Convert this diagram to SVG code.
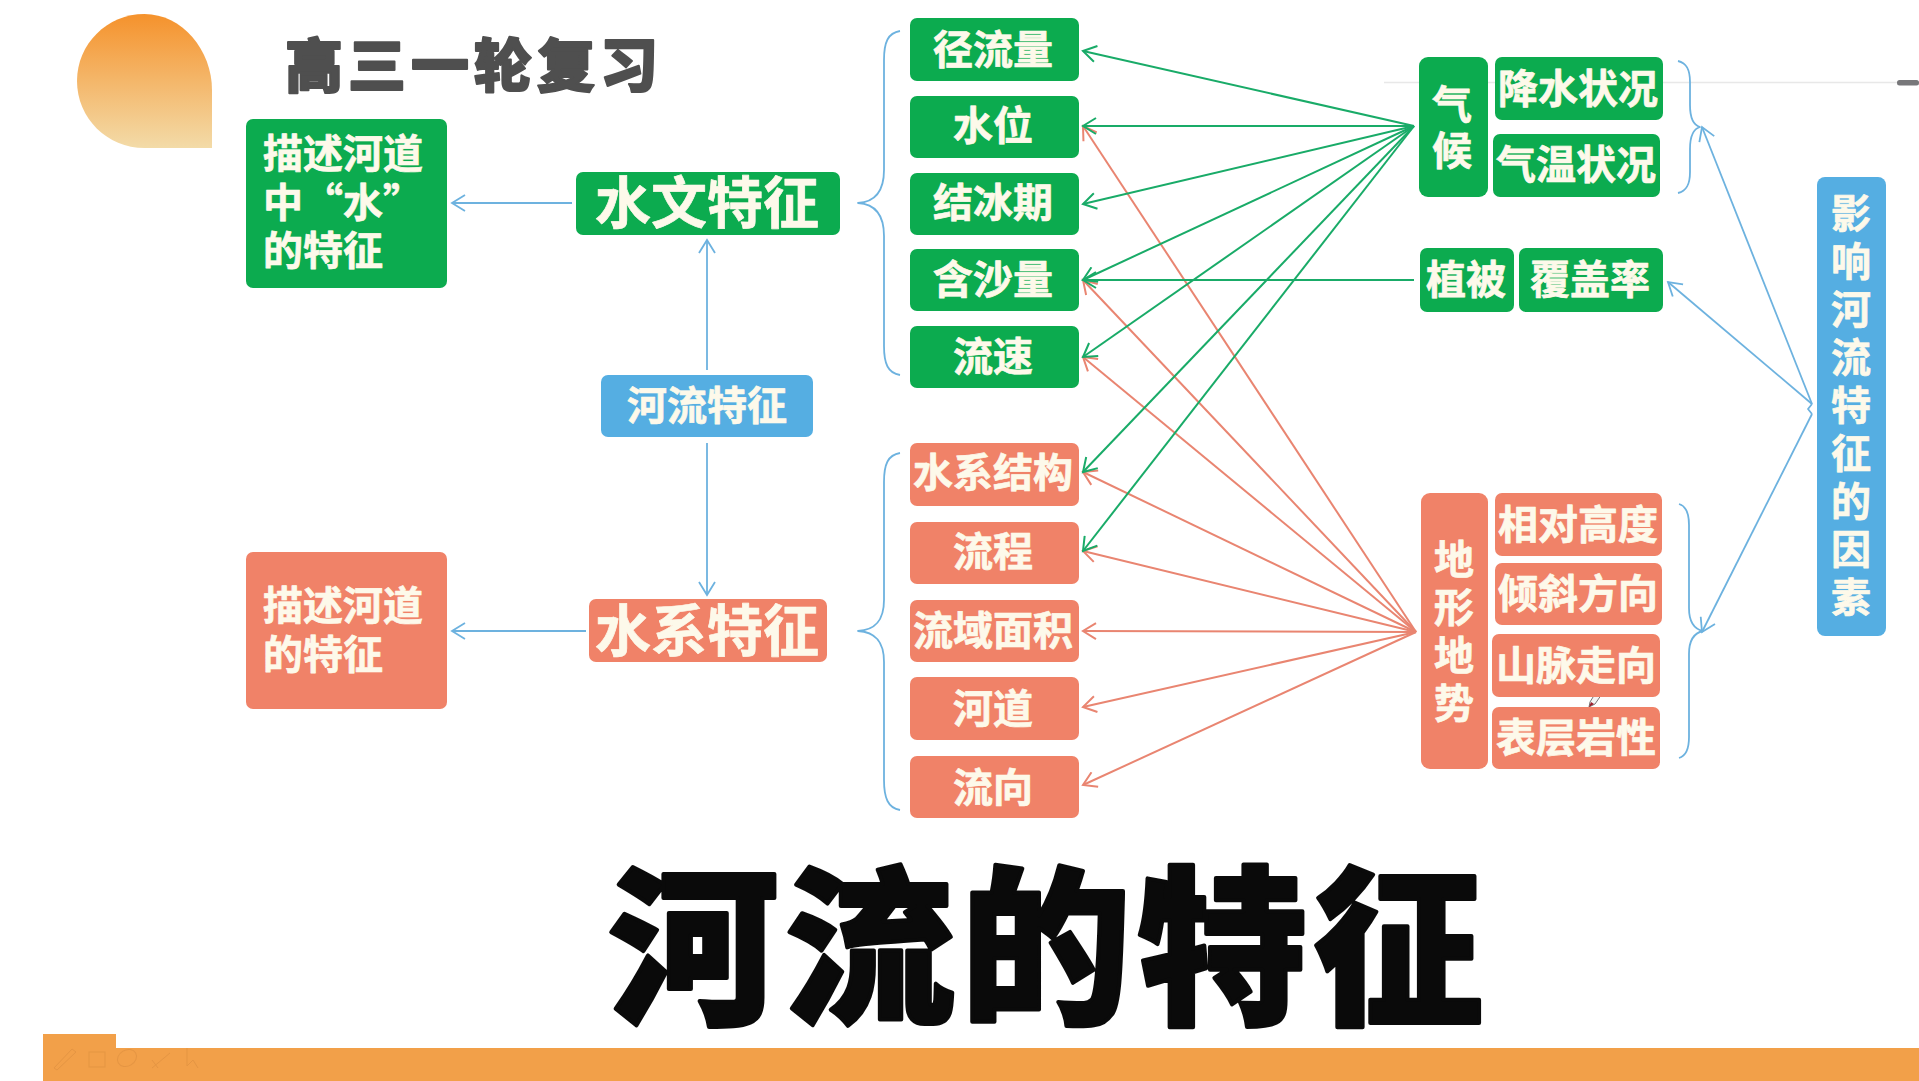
<svg xmlns="http://www.w3.org/2000/svg" width="1919" height="1081" viewBox="0 0 1919 1081">
<style>
text{font-family:"Noto Sans CJK SC","Noto Sans",sans-serif;font-weight:700;text-anchor:middle;fill:#fdf9ea;stroke:#fdf9ea;stroke-width:.7px;stroke-linejoin:round;font-size:40px}
.g{fill:#0cab4f}.r{fill:#f08268}.b{fill:#55aee2}
.big{font-size:56px}
.lg,.lr,.lb{fill:none;stroke-linejoin:round}
.lg{stroke:#19ab68;stroke-width:2}.lr{stroke:#e98571;stroke-width:2}.lb{stroke:#6db2df;stroke-width:1.8}
.title{text-anchor:start;font-weight:900}
</style>
<defs>
<linearGradient id="drop" x1="0" y1="0" x2="0" y2="1"><stop offset="0" stop-color="#f5922c"/><stop offset="1" stop-color="#f3dba8"/></linearGradient>
<marker id="mg" markerUnits="userSpaceOnUse" markerWidth="18" markerHeight="18" viewBox="-15 -9 18 18" refX="0" refY="0" orient="auto"><path d="M-13,-8 L0,0 L-13,8" fill="none" stroke="#19ab68" stroke-width="2"/></marker>
<marker id="mr" markerUnits="userSpaceOnUse" markerWidth="18" markerHeight="18" viewBox="-15 -9 18 18" refX="0" refY="0" orient="auto"><path d="M-13,-8 L0,0 L-13,8" fill="none" stroke="#e98571" stroke-width="2"/></marker>
<marker id="mb" markerUnits="userSpaceOnUse" markerWidth="18" markerHeight="18" viewBox="-15 -9 18 18" refX="0" refY="0" orient="auto"><path d="M-13,-8 L0,0 L-13,8" fill="none" stroke="#6db2df" stroke-width="1.8"/></marker>
</defs>
<rect width="1919" height="1081" fill="#fff"/>
<g id="decor">
<path d="M1384,82.500H1900" stroke="#e8e8e8" stroke-width="1.500"/>
<rect x="1897" y="80" width="22" height="5.500" rx="2.500" fill="#77777a"/>
<path d="M212,148H144.500C107,148 77,118 77,81C77,44 107,14 144.500,14C182,14 212,50 212,90Z" fill="url(#drop)"/>
<text class="title" x="285" y="87" style="font-size:58px;fill:#4f4f4f;stroke:#4f4f4f;stroke-width:2px;letter-spacing:5px">高三一轮复习</text>
<path d="M43,1081V1034H116V1048H1919V1081Z" fill="#f2a049"/>
<g fill="none" stroke="#dd8f40" stroke-width="1" opacity=".6">
<path d="M54,1068L72,1049L76,1052L57,1070Z"/>
<rect x="89" y="1052" width="16" height="15"/>
<ellipse cx="127" cy="1058" rx="10" ry="8" transform="rotate(-30 127 1058)"/>
<path d="M152,1068L170,1053M152,1060L158,1068"/>
<path d="M187,1048V1066L193,1060L198,1068"/>
</g>
<path d="M1604,691L1598,689L1590,702L1589,707L1595,704Z" fill="#f4f4f4" stroke="#777" stroke-width="1"/>
<path d="M1591,702L1589,707L1594,704Z" fill="#9b1c2a"/>
</g>
<g id="connectors">
<path class="lg" marker-end="url(#mg)" d="M1414,126L1083,51"/>
<path class="lr" marker-end="url(#mr)" d="M1416,632L1083,126"/>
<path class="lr" marker-end="url(#mr)" d="M1416,632L1083,280"/>
<path class="lr" marker-end="url(#mr)" d="M1416,632L1083,357"/>
<path class="lr" marker-end="url(#mr)" d="M1416,632L1083,472"/>
<path class="lr" marker-end="url(#mr)" d="M1416,632L1083,551"/>
<path class="lr" marker-end="url(#mr)" d="M1416,632L1083,631"/>
<path class="lr" marker-end="url(#mr)" d="M1416,632L1083,707"/>
<path class="lr" marker-end="url(#mr)" d="M1416,632L1083,785"/>
<path class="lg" marker-end="url(#mg)" d="M1414,126L1083,126"/>
<path class="lg" marker-end="url(#mg)" d="M1414,126L1083,204"/>
<path class="lg" marker-end="url(#mg)" d="M1414,126L1083,280"/>
<path class="lg" marker-end="url(#mg)" d="M1414,126L1083,357"/>
<path class="lg" marker-end="url(#mg)" d="M1414,126L1083,472"/>
<path class="lg" marker-end="url(#mg)" d="M1414,126L1083,551"/>
<path class="lg" marker-end="url(#mg)" d="M1414,280L1083,280"/>
<path class="lb" marker-end="url(#mb)" d="M572,203H452"/>
<path class="lb" marker-end="url(#mb)" d="M707,370V240"/>
<path class="lb" marker-end="url(#mb)" d="M707,443V595"/>
<path class="lb" marker-end="url(#mb)" d="M586,631H452"/>
<path class="lb" marker-end="url(#mb)" d="M1812,404L1702,127"/>
<path class="lb" marker-end="url(#mb)" d="M1812,404L1668,282"/>
<path class="lb" marker-end="url(#mb)" d="M1812,414L1702,632"/>
<path class="lb" d="M1812,404L1808,409L1812,414"/>
<path class="lb" d="M900,31C888,33 884,42 884,60V170C884,192 874,202 858,203C874,204 884,214 884,236V346C884,364 888,373 900,375"/>
<path class="lb" d="M900,453C888,455 884,464 884,482V600C884,622 874,630 858,631C874,632 884,640 884,662V780C884,798 888,808 900,810"/>
<path class="lb" d="M1678,61C1687,63 1690,70 1690,82V105C1690,118 1693,125 1700,127C1693,129 1690,136 1690,149V172C1690,184 1687,191 1678,193"/>
<path class="lb" d="M1679,504C1686,506 1689,513 1689,525V608C1689,622 1694,629 1703,631C1694,633 1689,640 1689,654V737C1689,749 1686,756 1679,758"/>
</g>
<g id="n-hydro-desc"><rect class="g" x="246" y="119" width="201" height="169" rx="7"/><text y="168"><tspan x="343">描述河道</tspan><tspan x="343" dy="49">中“水”</tspan><tspan x="323" dy="48">的特征</tspan></text></g>
<g id="n-hydro"><rect class="g" x="576" y="172" width="264" height="63" rx="7"/><text class="big" x="707" y="223">水文特征</text></g>
<g id="n-river"><rect class="b" x="601" y="375" width="212" height="62" rx="7"/><text x="707" y="420">河流特征</text></g>
<g id="n-system"><rect class="r" x="589" y="599" width="238" height="63" rx="7"/><text class="big" x="707" y="651">水系特征</text></g>
<g id="n-system-desc"><rect class="r" x="246" y="552" width="201" height="157" rx="7"/><text y="620"><tspan x="343">描述河道</tspan><tspan x="323" dy="49">的特征</tspan></text></g>
<g id="n1"><rect class="g" x="910" y="18" width="169" height="63" rx="7"/><text x="993" y="64">径流量</text></g>
<g id="n2"><rect class="g" x="910" y="96" width="169" height="62" rx="7"/><text x="993" y="140">水位</text></g>
<g id="n3"><rect class="g" x="910" y="173" width="169" height="62" rx="7"/><text x="993" y="217">结冰期</text></g>
<g id="n4"><rect class="g" x="910" y="249" width="169" height="62" rx="7"/><text x="993" y="294">含沙量</text></g>
<g id="n5"><rect class="g" x="910" y="326" width="169" height="62" rx="7"/><text x="993" y="371">流速</text></g>
<g id="n6"><rect class="r" x="910" y="443" width="169" height="63" rx="7"/><text x="993" y="487">水系结构</text></g>
<g id="n7"><rect class="r" x="910" y="522" width="169" height="62" rx="7"/><text x="993" y="566">流程</text></g>
<g id="n8"><rect class="r" x="910" y="600" width="169" height="62" rx="7"/><text x="993" y="645">流域面积</text></g>
<g id="n9"><rect class="r" x="910" y="677" width="169" height="63" rx="7"/><text x="993" y="723">河道</text></g>
<g id="n10"><rect class="r" x="910" y="756" width="169" height="62" rx="7"/><text x="993" y="802">流向</text></g>
<g id="n-climate"><rect class="g" x="1419" y="57" width="69" height="140" rx="9"/><text y="119"><tspan x="1452">气</tspan><tspan x="1452" dy="46">候</tspan></text></g>
<g id="n-rain"><rect class="g" x="1495" y="57" width="168" height="63" rx="7"/><text x="1578" y="103">降水状况</text></g>
<g id="n-temp"><rect class="g" x="1493" y="134" width="167" height="63" rx="7"/><text x="1576" y="179">气温状况</text></g>
<g id="n-veg"><rect class="g" x="1420" y="248" width="94" height="64" rx="7"/><text x="1466" y="294">植被</text></g>
<g id="n-cover"><rect class="g" x="1519" y="248" width="144" height="64" rx="7"/><text x="1590" y="294">覆盖率</text></g>
<g id="n-terrain"><rect class="r" x="1421" y="493" width="67" height="276" rx="9"/><text y="574"><tspan x="1454">地</tspan><tspan x="1454" dy="48">形</tspan><tspan x="1454" dy="48">地</tspan><tspan x="1454" dy="48">势</tspan></text></g>
<g id="n-relief"><rect class="r" x="1495" y="493" width="167" height="63" rx="7"/><text x="1578" y="539">相对高度</text></g>
<g id="n-slope"><rect class="r" x="1495" y="563" width="167" height="62" rx="7"/><text x="1578" y="608">倾斜方向</text></g>
<g id="n-range"><rect class="r" x="1492" y="634" width="168" height="63" rx="7"/><text x="1576" y="680">山脉走向</text></g>
<g id="n-rock"><rect class="r" x="1492" y="707" width="168" height="62" rx="7"/><text x="1576" y="752">表层岩性</text></g>
<g id="n-factors"><rect class="b" x="1817" y="177" width="69" height="459" rx="8"/>
<text y="228"><tspan x="1851">影</tspan><tspan x="1851" dy="48">响</tspan><tspan x="1851" dy="48">河</tspan><tspan x="1851" dy="48">流</tspan><tspan x="1851" dy="48">特</tspan><tspan x="1851" dy="48">征</tspan><tspan x="1851" dy="48">的</tspan><tspan x="1851" dy="48">因</tspan><tspan x="1851" dy="48">素</tspan></text></g>
<g id="big-title"><text class="title" x="609" y="1011" style="font-size:170px;fill:#0a0a0a;stroke:#0a0a0a;stroke-width:4px;letter-spacing:6px">河流的特征</text></g>
</svg>
